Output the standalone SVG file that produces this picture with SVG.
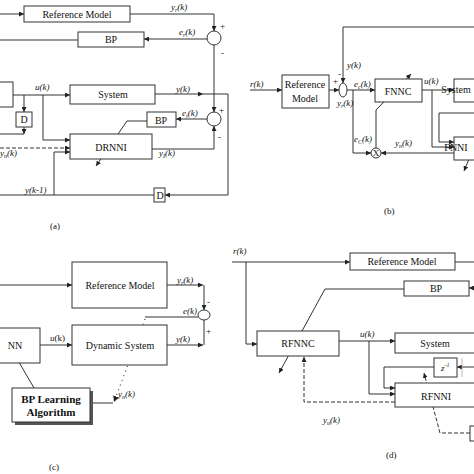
<svg xmlns="http://www.w3.org/2000/svg" width="474" height="474" viewBox="0 0 474 474">
<style>
.b{fill:#fff;stroke:#333;stroke-width:1}
.l{fill:none;stroke:#333;stroke-width:1}
.d{fill:none;stroke:#333;stroke-width:1;stroke-dasharray:4 2}
.o{fill:none;stroke:#444;stroke-width:1.2;stroke-dasharray:1 4}
.t{font-family:"Liberation Serif",serif;font-size:10px;fill:#111;text-anchor:middle}
.s{font-family:"Liberation Serif",serif;font-size:9px;fill:#111;font-style:italic}
.p{font-family:"Liberation Serif",serif;font-size:9px;fill:#111}
.bb{font-family:"Liberation Serif",serif;font-size:11px;font-weight:bold;fill:#111;text-anchor:middle}
</style>
<defs>
<marker id="a" viewBox="0 0 6 6" refX="6" refY="3" markerWidth="5" markerHeight="5" orient="auto"><path d="M0,0 L6,3 L0,6 z" fill="#222"/></marker>
</defs>
<rect width="474" height="474" fill="#fff"/>

<!-- connectors -->
<g id="connectors" marker-end="url(#a)">
<!-- (a) -->
<path class="l" d="M0,14 H24"/>
<path class="l" d="M130,14 H214 V31"/>
<path class="l" d="M207,39 H144"/>
<path class="l" d="M78,40 H0" marker-end="none"/>
<path class="l" d="M214,45 V112"/>
<path class="l" d="M13,95 H70"/>
<path class="l" d="M24,95 V112"/>
<path class="l" d="M24,127 V134"/>
<path class="l" d="M24,134 H0" marker-end="none"/>
<path class="l" d="M43,95 V140 H70"/>
<path class="d" d="M0,148 H70"/>
<path class="l" d="M154,195 H0" marker-end="none"/>
<path class="l" d="M54,195 V152 H70"/>
<path class="l" d="M155,94 H203"/>
<path class="l" d="M203,94 H228 V195 H165"/>
<path class="l" d="M207,119 H176"/>
<path class="l" d="M147,121 H127 L96,166" stroke-width="0.8"/>
<path class="l" d="M152,149 H214 V126"/>
<!-- (b) -->
<path class="l" d="M474,27 H343 V83"/>
<path class="l" d="M250,90 H282"/>
<path class="l" d="M329,90 H339"/>
<path class="l" d="M347,90 H375"/>
<path class="l" d="M353,90 V153 H371"/>
<path class="l" d="M376,148 V110 L411,74"/>
<path class="l" d="M422,90 H454"/>
<path class="l" d="M432,90 V147 H454"/>
<path class="l" d="M474,113 H439 V142 H454"/>
<path class="l" d="M454,153 H381"/>
<path class="l" d="M476,142 L464,171"/>
<!-- (c) -->
<path class="l" d="M0,285 H72"/>
<path class="l" d="M167,285 H203"/>
<path class="l" d="M204,285 V310"/>
<path class="l" d="M198,317 H145" marker-end="none"/>
<path class="o" d="M145,319 L114,402"/>
<path class="l" d="M40,345 H72"/>
<path class="l" d="M167,345 H203"/>
<path class="l" d="M204,345 V320" marker-end="none"/>
<path class="l" d="M2,333 L34,388" marker-end="none"/>
<path class="l" d="M90,403 H113" marker-end="none"/>
<!-- (d) -->
<path class="l" d="M232,262 H350"/>
<path class="l" d="M455,262 H474" marker-end="none"/>
<path class="l" d="M246,262 V344 H257"/>
<path class="l" d="M474,288 H469"/>
<path class="l" d="M404,289 H325 L279,373" stroke="#666" stroke-width="0.8"/>
<path class="l" d="M339,341 H395"/>
<path class="l" d="M369,341 V394 H395"/>
<path class="l" d="M474,367 H457"/>
<path class="l" d="M434,367 H384 V388 H395"/>
<path class="d" d="M395,402 H304 V357"/>
<path class="d" d="M470,433 H440 L424,373"/>
</g>

<!-- (a) nodes -->
<g id="a-ref"><rect class="b" x="24" y="6" width="106" height="16"/><text class="t" x="77" y="18">Reference Model</text></g>
<g id="a-bp1"><rect class="b" x="78" y="32" width="66" height="15"/><text class="t" x="111" y="43">BP</text></g>
<g id="a-sum1"><circle class="b" cx="214" cy="38" r="7"/></g>
<g id="a-ctrl"><rect class="b" x="-10" y="82" width="23" height="25"/></g>
<g id="a-sys"><rect class="b" x="70" y="85" width="85" height="19"/><text class="t" x="113" y="98">System</text></g>
<g id="a-d1"><rect class="b" x="16" y="112" width="16" height="15"/><text class="t" x="24" y="123">D</text></g>
<g id="a-bp2"><rect class="b" x="147" y="112" width="29" height="15"/><text class="t" x="161" y="124">BP</text></g>
<g id="a-sum2"><circle class="b" cx="214" cy="119" r="7"/></g>
<g id="a-drnni"><rect class="b" x="70" y="134" width="82" height="25"/><text class="t" x="111" y="151">DRNNI</text></g>
<g id="a-d2"><rect class="b" x="154" y="188" width="11" height="14"/><text class="t" x="160" y="199">D</text></g>
<g id="a-labels">
<text class="s" x="171" y="10">y<tspan font-size="6" dy="2">r</tspan><tspan dy="-2">(k)</tspan></text>
<text class="p" x="220" y="29">+</text>
<text class="p" x="221" y="56">-</text>
<text class="s" x="179" y="35">e<tspan font-size="6" dy="2">r</tspan><tspan dy="-2">(k)</tspan></text>
<text class="s" x="35" y="90">u(k)</text>
<text class="s" x="176" y="92">y(k)</text>
<text class="s" x="182" y="116">e<tspan font-size="6" dy="2">i</tspan><tspan dy="-2">(k)</tspan></text>
<text class="p" x="219" y="113">+</text>
<text class="p" x="218" y="140">-</text>
<text class="s" x="0" y="156">y<tspan font-size="6" dy="2">n</tspan><tspan dy="-2">(k)</tspan></text>
<text class="s" x="159" y="156">y<tspan font-size="6" dy="2">I</tspan><tspan dy="-2">(k)</tspan></text>
<text class="s" x="25" y="193">y(k-1)</text>
<text class="p" x="50" y="229">(a)</text>
</g>

<!-- (b) nodes -->
<g id="b-ref"><rect class="b" x="282" y="75" width="47" height="33"/><text class="t" x="305" y="88">Reference</text><text class="t" x="305" y="102">Model</text></g>
<g id="b-sum"><ellipse class="b" cx="343" cy="90" rx="4" ry="7"/></g>
<g id="b-fnnc"><rect class="b" x="375" y="79" width="47" height="23"/><text class="t" x="398" y="95">FNNC</text></g>
<g id="b-sys"><rect class="b" x="454" y="79" width="40" height="23"/><text class="t" x="456" y="93" font-size="5.5" text-anchor="start">System</text></g>
<g id="b-fnni"><rect class="b" x="454" y="137" width="40" height="23"/><text class="t" x="456" y="151" font-size="6.5" text-anchor="start">FNNI</text></g>
<g id="b-mul"><circle class="b" cx="376" cy="153" r="5"/><text class="p" x="376" y="156" font-size="7" text-anchor="middle">X</text></g>
<g id="b-labels">
<text class="s" x="250" y="87">r(k)</text>
<text class="p" x="333" y="84">+</text>
<text class="p" x="338" y="77">-</text>
<text class="s" x="347" y="68">y(k)</text>
<text class="s" x="337" y="106">y<tspan font-size="6" dy="2">r</tspan><tspan dy="-2">(k)</tspan></text>
<text class="s" x="354" y="87">e<tspan font-size="6" dy="2">c</tspan><tspan dy="-2">(k)</tspan></text>
<text class="s" x="424" y="84">u(k)</text>
<text class="s" x="354" y="142">e<tspan font-size="6" dy="2">C</tspan><tspan dy="-2">(k)</tspan></text>
<text class="s" x="395" y="146">y<tspan font-size="6" dy="2">n</tspan><tspan dy="-2">(k)</tspan></text>
<text class="p" x="384" y="214">(b)</text>
</g>

<!-- (c) nodes -->
<g id="c-ref"><rect class="b" x="72" y="262" width="95" height="46"/><text class="t" x="120" y="289" font-size="11">Reference Model</text></g>
<g id="c-sum"><ellipse class="b" cx="204" cy="315" rx="6" ry="5"/></g>
<g id="c-ctrl"><rect class="b" x="-10" y="328" width="50" height="35"/><text class="t" x="15" y="349" text-anchor="end" font-size="11">NN</text></g>
<g id="c-sys"><rect class="b" x="72" y="325" width="95" height="40"/><text class="t" x="120" y="349" font-size="11">Dynamic System</text></g>
<g id="c-bp"><rect x="15" y="391" width="78" height="34" fill="#555"/><rect class="b" x="12" y="388" width="78" height="34"/><text class="bb" x="51" y="403">BP Learning</text><text class="bb" x="51" y="416">Algorithm</text></g>
<g id="c-labels">
<text class="s" x="177" y="283">y<tspan font-size="6" dy="2">r</tspan><tspan dy="-2">(k)</tspan></text>
<text class="p" x="207" y="305">-</text>
<text class="p" x="206" y="334">+</text>
<text class="s" x="183" y="314">e(k)</text>
<text class="s" x="176" y="342">y(k)</text>
<text class="s" x="50" y="341">u<tspan font-style="normal">(k)</tspan></text>
<text class="s" x="118" y="397">y<tspan font-size="6" dy="2">n</tspan><tspan dy="-2">(k)</tspan></text>
<text class="p" x="49" y="470">(c)</text>
</g>

<!-- (d) nodes -->
<g id="d-ref"><rect class="b" x="350" y="253" width="105" height="17"/><text class="t" x="402" y="265">Reference Model</text></g>
<g id="d-bp"><rect class="b" x="404" y="281" width="65" height="15"/><text class="t" x="436" y="292">BP</text></g>
<g id="d-rfnnc"><rect class="b" x="257" y="331" width="82" height="25"/><text class="t" x="298" y="347">RFNNC</text></g>
<g id="d-sys"><rect class="b" x="395" y="333" width="95" height="20"/><text class="t" x="435" y="347">System</text></g>
<g id="d-z"><rect class="b" x="434" y="358" width="23" height="19"/><text class="s" x="441" y="371">z<tspan font-size="6" dy="-4">-1</tspan></text><path d="M462,358 V377" stroke="#aaa" stroke-width="0.8"/></g>
<g id="d-rfnni"><rect class="b" x="395" y="383" width="95" height="24"/><text class="t" x="436" y="400">RFNNI</text></g>
<g id="d-box"><rect class="b" x="470" y="426" width="12" height="15"/></g>
<g id="d-labels">
<text class="s" x="233" y="254">r(k)</text>
<text class="s" x="360" y="337">u(k)</text>
<text class="s" x="323" y="423">y<tspan font-size="6" dy="2">u</tspan><tspan dy="-2">(k)</tspan></text>
<text class="p" x="386" y="458">(d)</text>
</g>
</svg>
